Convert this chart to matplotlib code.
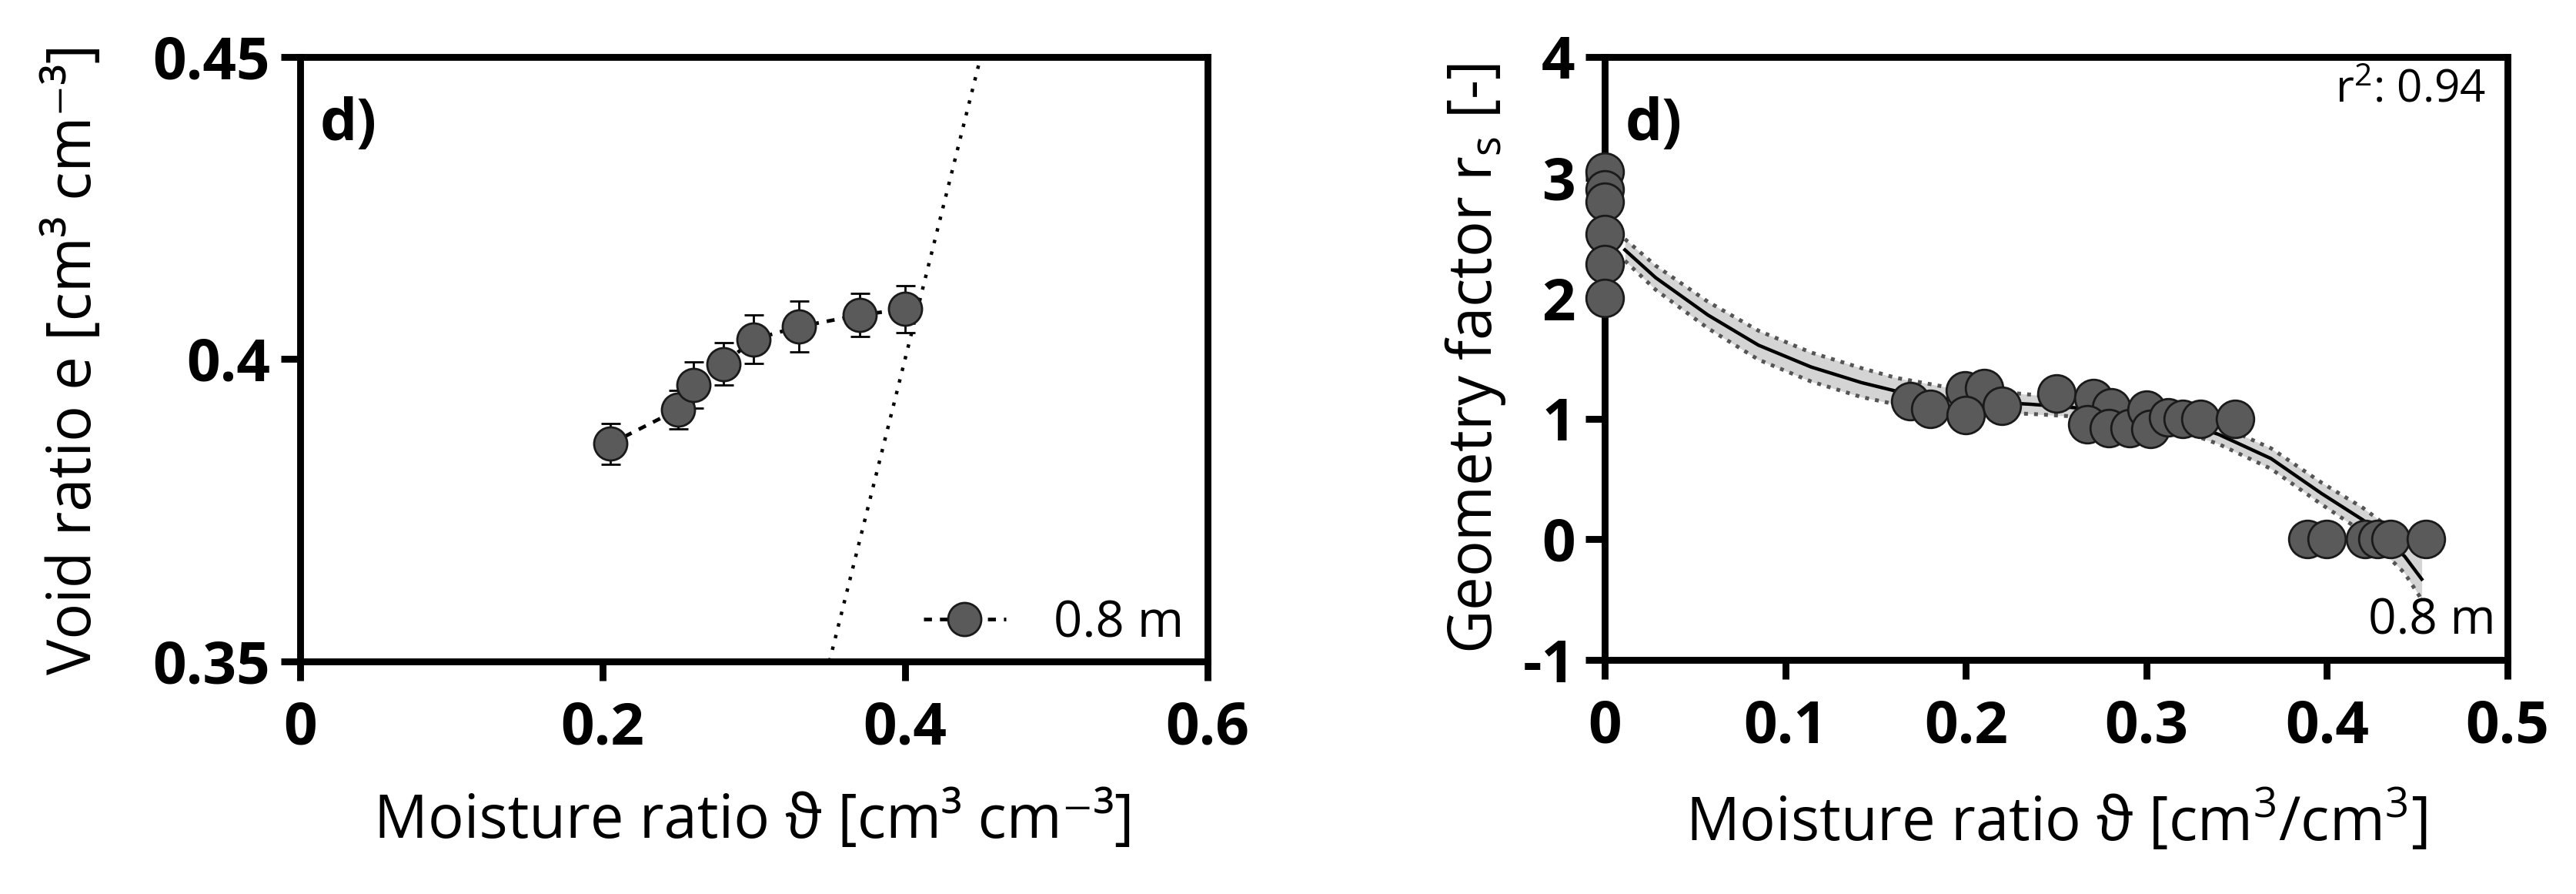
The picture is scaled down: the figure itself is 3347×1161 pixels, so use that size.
import numpy as np
import matplotlib
matplotlib.use("Agg")
import matplotlib.pyplot as plt

plt.rcParams['font.family'] = ['Open Sans', 'DejaVu Sans']
plt.rcParams['mathtext.fontset'] = 'custom'
plt.rcParams['mathtext.rm'] = 'Open Sans'
plt.rcParams['mathtext.it'] = 'Open Sans:italic'
plt.rcParams['mathtext.bf'] = 'Open Sans:bold'

# left panel: void ratio vs moisture ratio (0.8 m)
moist = [0.205, 0.250, 0.260, 0.280, 0.300, 0.330, 0.370, 0.400]
void = [0.3860, 0.3917, 0.3957, 0.3992, 0.4033, 0.4054, 0.4073, 0.4083]
void_err = [0.0034, 0.0032, 0.0038, 0.0035, 0.0040, 0.0042, 0.0036, 0.0039]
sat_x = [0.35, 0.45]
sat_y = [0.35, 0.45]

# right panel: geometry factor vs moisture ratio
rs_moist = [0, 0, 0, 0, 0, 0,
            0.169, 0.180, 0.1995, 0.210, 0.200, 0.220, 0.250, 0.2706, 0.2805,
            0.267, 0.279, 0.2905, 0.300, 0.302, 0.312, 0.320, 0.330, 0.349,
            0.389, 0.400, 0.421, 0.428, 0.435, 0.455]
rs_vals = [3.05, 2.90, 2.80, 2.53, 2.28, 2.00,
           1.148, 1.084, 1.233, 1.255, 1.031, 1.106, 1.212, 1.170, 1.095,
           0.957, 0.925, 0.925, 1.074, 0.914, 1.01, 1.0, 1.0, 1.0,
           0, 0, 0, 0, 0, 0]
fit_x = [0.011, 0.028, 0.057, 0.085, 0.114, 0.142, 0.161, 0.190, 0.236,
         0.270, 0.300, 0.320, 0.340, 0.369, 0.397, 0.420, 0.443, 0.4525]
fit_y = [2.40, 2.17, 1.86, 1.61, 1.43, 1.30, 1.23, 1.16, 1.12,
         1.08, 1.03, 0.97, 0.87, 0.67, 0.38, 0.16, -0.14, -0.33]
fit_half = [0.09, 0.10, 0.11, 0.12, 0.12, 0.12, 0.11, 0.10, 0.08,
            0.07, 0.07, 0.075, 0.08, 0.085, 0.09, 0.10, 0.14, 0.17]

left_xticks = [0, 0.2, 0.4, 0.6]
left_xlabels = ["0", "0.2", "0.4", "0.6"]
left_yticks = [0.35, 0.4, 0.45]
left_ylabels = ["0.35", "0.4", "0.45"]
right_xticks = [0, 0.1, 0.2, 0.3, 0.4, 0.5]
right_xlabels = ["0", "0.1", "0.2", "0.3", "0.4", "0.5"]
right_yticks = [-1, 0, 1, 2, 3, 4]
right_ylabels = ["-1", "0", "1", "2", "3", "4"]

face = '#5a5a5a'
spine_w = 3.2
tick_fs = 27.5
label_fs = 28

fig = plt.figure(figsize=(16.74, 5.805), dpi=200)
ax1 = fig.add_axes([0.1165, 0.2601, 0.3521, 0.6762])
ax2 = fig.add_axes([0.6229, 0.2618, 0.3502, 0.6745])

for ax in (ax1, ax2):
    for s in ax.spines.values():
        s.set_linewidth(spine_w)
    ax.tick_params(direction='out', length=9, width=spine_w)
    ax.tick_params(axis='x', pad=9)
    ax.tick_params(axis='y', pad=5)

# ---- left
ax1.plot(sat_x, sat_y, linestyle=(0, (1, 2.5)), color='black', lw=1.6)
ax1.errorbar(moist, void, yerr=void_err, fmt='none', ecolor='black',
             elinewidth=1.0, capsize=4.5, capthick=1.0, zorder=3)
ax1.plot(moist, void, linestyle=(0, (2.2, 2.2)), color='black', lw=1.7,
         marker='o', markersize=15.5, markerfacecolor=face,
         markeredgecolor='#1a1a1a', markeredgewidth=1.0, zorder=4,
         label='0.8 m')
ax1.set_xlim(0, 0.6)
ax1.set_ylim(0.35, 0.45)
ax1.set_xticks(left_xticks)
ax1.set_xticklabels(left_xlabels, fontsize=tick_fs, fontweight='bold')
ax1.set_yticks(left_yticks)
ax1.set_yticklabels(left_ylabels, fontsize=tick_fs, fontweight='bold')
ax1.set_xlabel("Moisture ratio ϑ [cm³ cm⁻³]", fontsize=label_fs)
ax1.set_ylabel("Void ratio e [cm³ cm⁻³]", fontsize=label_fs)
ax1.xaxis.set_label_coords(0.5, -0.215)
ax1.yaxis.set_label_coords(-0.215, 0.5)
ax1.text(0.022, 0.935, "d)", transform=ax1.transAxes, fontsize=tick_fs,
         fontweight='bold', va='top', ha='left')
leg = ax1.legend(loc='lower right', bbox_to_anchor=(0.996, -0.013),
                 frameon=False, fontsize=23.5, handlelength=1.64,
                 handletextpad=0.95, borderaxespad=0)

# ---- right
lo = np.array(fit_y) - np.array(fit_half)
hi = np.array(fit_y) + np.array(fit_half)
ax2.fill_between(fit_x, lo, hi, color='#d4d4d4', lw=0, zorder=1)
ax2.plot(fit_x, lo, linestyle=(0, (1, 1.6)), color='#555555', lw=1.8, zorder=2)
ax2.plot(fit_x, hi, linestyle=(0, (1, 1.6)), color='#555555', lw=1.8, zorder=2)
ax2.plot(fit_x, fit_y, color='black', lw=1.6, zorder=3)
ax2.plot(rs_moist, rs_vals, linestyle='none', marker='o', markersize=17.5,
         markerfacecolor=face, markeredgecolor='#1a1a1a',
         markeredgewidth=1.0, zorder=5, clip_on=False)
ax2.set_xlim(0, 0.5)
ax2.set_ylim(-1, 4)
ax2.set_xticks(right_xticks)
ax2.set_xticklabels(right_xlabels, fontsize=tick_fs, fontweight='bold')
ax2.set_yticks(right_yticks)
ax2.set_yticklabels(right_ylabels, fontsize=tick_fs, fontweight='bold')
ax2.set_xlabel(r"Moisture ratio ϑ [cm$^{3}$/cm$^{3}$]", fontsize=label_fs)
ax2.set_ylabel(r"Geometry factor r$_{\mathrm{s}}$ [-]", fontsize=label_fs)
ax2.xaxis.set_label_coords(0.5, -0.215)
ax2.yaxis.set_label_coords(-0.108, 0.5)
ax2.text(0.022, 0.935, "d)", transform=ax2.transAxes, fontsize=tick_fs,
         fontweight='bold', va='top', ha='left')
ax2.text(0.976, 0.925, r"r$^{2}$: 0.94", transform=ax2.transAxes,
         fontsize=21, ha='right', va='baseline')
ax2.text(0.987, 0.043, "0.8 m", transform=ax2.transAxes,
         fontsize=23, ha='right', va='baseline')

fig.savefig("out.png", dpi=200)
